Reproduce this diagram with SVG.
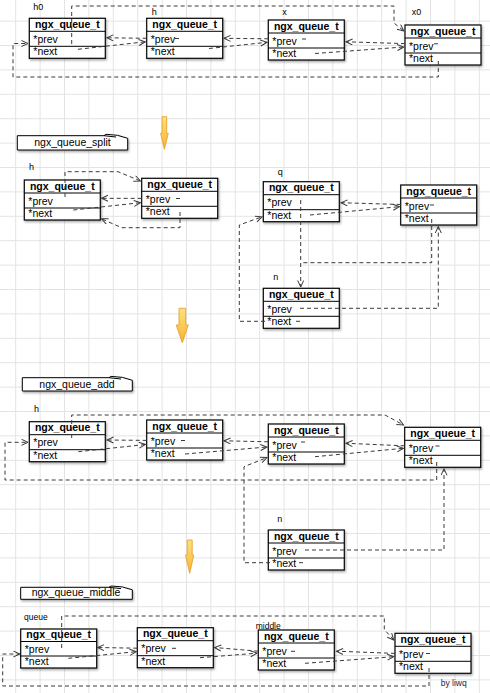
<svg xmlns="http://www.w3.org/2000/svg" width="490" height="693" viewBox="0 0 490 693">
<style>
.box{fill:#fff;stroke:#000;stroke-width:1.2;filter:url(#sh)}
.dv{fill:none;stroke:#000;stroke-width:1}
.tt{font-family:"Liberation Sans",Arial,sans-serif;font-size:10.5px;font-weight:bold;text-anchor:middle;fill:#000}
.fd{font-family:"Liberation Sans",Arial,sans-serif;font-size:10.5px;fill:#000}
.lb{font-family:"Liberation Sans",Arial,sans-serif;font-size:9px;fill:#000}
.lb2{font-family:"Liberation Sans",Arial,sans-serif;font-size:8.5px;fill:#000}
.c{fill:none;stroke:#3a3a3a;stroke-width:1;stroke-dasharray:4 3;marker-end:url(#arr)}
.cn{fill:none;stroke:#3a3a3a;stroke-width:1;stroke-dasharray:4 3}
.note{fill:#fff;stroke:#000;stroke-width:1;filter:url(#sh)}
.nt{font-family:"Liberation Sans",Arial,sans-serif;font-size:10.5px;text-anchor:middle;fill:#000}
.oa{fill:url(#og);stroke:#e39a26;stroke-width:0.8}
</style>
<defs>
<pattern id="grid" patternUnits="userSpaceOnUse" x="15.2" y="93.8" width="24.4" height="24.4">
<path d="M0.5,0 V24.4 M0,0.5 H24.4" stroke="#e3e3e3" stroke-width="1" fill="none"/>
</pattern>
<filter id="sh" x="-10%" y="-15%" width="125%" height="145%">
<feDropShadow dx="1" dy="1.5" stdDeviation="0.9" flood-color="#000" flood-opacity="0.35"/>
</filter>
<marker id="arr" markerWidth="10" markerHeight="10" refX="7" refY="3.5" orient="auto" markerUnits="userSpaceOnUse">
<path d="M0.5,0.5 L7,3.5 L0.5,6.5" fill="none" stroke="#3a3a3a" stroke-width="1"/>
</marker>
<linearGradient id="og" x1="0" y1="0" x2="0" y2="1">
<stop offset="0" stop-color="#fde27a"/>
<stop offset="1" stop-color="#f8b432"/>
</linearGradient>
</defs>
<rect width="490" height="693" fill="#fff"/>
<rect width="490" height="693" fill="url(#grid)"/>

<!-- notes and arrows -->
<g id="note-split">
<path class="note" d="M17.3,135.7 H104 L106,134.3 Q118,134.3 127.7,138.3 V150 H17.3 Z"/>
<path class="dv" d="M104,135.7 L116,137"/>
<text class="nt" x="72.5" y="146">ngx_queue_split</text>
</g>
<g id="note-add">
<path class="note" d="M22.3,377.7 H109 L111,376.4 Q123,376.4 132.3,380.3 V391 H22.3 Z"/>
<path class="dv" d="M109,377.7 L121,379"/>
<text class="nt" x="77" y="387.5">ngx_queue_add</text>
</g>
<g id="note-middle">
<path class="note" d="M20.7,587.3 H109 L111,586 Q123,586 132.3,589.8 V599.3 H20.7 Z"/>
<path class="dv" d="M109,587.3 L121,588.6"/>
<text class="nt" x="76" y="596.3">ngx_queue_middle</text>
</g>
<g id="arrows-step">
<path class="oa" d="M162,116.7 H166.7 V133.3 H168.3 L164.4,149.3 L160.6,133.3 H162 Z"/>
<path class="oa" d="M179,308.3 H185.7 V325 H188.3 L182.3,342.7 L176.2,325 H179 Z"/>
<path class="oa" d="M187.2,540 H192.2 V555 H193.8 L189.7,573.3 L185.5,555 H187.2 Z"/>
</g>

<!-- top row nodes -->
<g id="n-h0"><text class="lb" x="33.3" y="10">h0</text>
<g transform="translate(29.3,18.3)"><rect class="box" width="76" height="40"/><path class="dv" d="M0,13H76M0,28H76"/><text class="tt" x="38" y="9.5">ngx_queue_t</text><text class="fd" x="4" y="24.5">*prev</text><text class="fd" x="4" y="37.2">*next</text></g></g>
<g id="n-h"><text class="lb" x="151.7" y="15">h</text>
<g transform="translate(146.7,18.3)"><rect class="box" width="76" height="40"/><path class="dv" d="M0,13H76M0,28H76"/><text class="tt" x="38" y="9.5">ngx_queue_t</text><text class="fd" x="4" y="24.5">*prev</text><text class="fd" x="4" y="37.2">*next</text></g></g>
<g id="n-x"><text class="lb" x="282.3" y="15">x</text>
<g transform="translate(268.3,20)"><rect class="box" width="76" height="40"/><path class="dv" d="M0,13H76M0,28H76"/><text class="tt" x="38" y="9.5">ngx_queue_t</text><text class="fd" x="4" y="24.5">*prev</text><text class="fd" x="4" y="37.2">*next</text></g></g>
<g id="n-x0"><text class="lb" x="411.7" y="15">x0</text>
<g transform="translate(405,25)"><rect class="box" width="76" height="40"/><path class="dv" d="M0,13H76M0,28H76"/><text class="tt" x="38" y="9.5">ngx_queue_t</text><text class="fd" x="4" y="24.5">*prev</text><text class="fd" x="4" y="37.2">*next</text></g></g>

<!-- split nodes -->
<g id="s-h"><text class="lb" x="29" y="170">h</text>
<g transform="translate(24.3,180)"><rect class="box" width="76" height="40"/><path class="dv" d="M0,13H76M0,28H76"/><text class="tt" x="38" y="9.5">ngx_queue_t</text><text class="fd" x="4" y="24.5">*prev</text><text class="fd" x="4" y="37.2">*next</text></g></g>
<g id="s-2">
<g transform="translate(141.7,178.3)"><rect class="box" width="76" height="40"/><path class="dv" d="M0,13H76M0,28H76"/><text class="tt" x="38" y="9.5">ngx_queue_t</text><text class="fd" x="4" y="24.5">*prev</text><text class="fd" x="4" y="37.2">*next</text></g></g>
<g id="s-q"><text class="lb" x="277.7" y="175">q</text>
<g transform="translate(263.3,181.7)"><rect class="box" width="76" height="40"/><path class="dv" d="M0,13H76M0,28H76"/><text class="tt" x="38" y="9.5">ngx_queue_t</text><text class="fd" x="4" y="24.5">*prev</text><text class="fd" x="4" y="37.2">*next</text></g></g>
<g id="s-4">
<g transform="translate(400.7,185)"><rect class="box" width="76" height="40"/><path class="dv" d="M0,13H76M0,28H76"/><text class="tt" x="38" y="9.5">ngx_queue_t</text><text class="fd" x="4" y="24.5">*prev</text><text class="fd" x="4" y="37.2">*next</text></g></g>
<g id="s-n"><text class="lb" x="273.3" y="280">n</text>
<g transform="translate(263.3,288.3)"><rect class="box" width="76" height="40"/><path class="dv" d="M0,13H76M0,28H76"/><text class="tt" x="38" y="9.5">ngx_queue_t</text><text class="fd" x="4" y="24.5">*prev</text><text class="fd" x="4" y="37.2">*next</text></g></g>

<!-- add nodes -->
<g id="a-h"><text class="lb" x="34" y="412">h</text>
<g transform="translate(29.3,421.7)"><rect class="box" width="76" height="40"/><path class="dv" d="M0,13H76M0,28H76"/><text class="tt" x="38" y="9.5">ngx_queue_t</text><text class="fd" x="4" y="24.5">*prev</text><text class="fd" x="4" y="37.2">*next</text></g></g>
<g id="a-2">
<g transform="translate(146.7,420)"><rect class="box" width="76" height="40"/><path class="dv" d="M0,13H76M0,28H76"/><text class="tt" x="38" y="9.5">ngx_queue_t</text><text class="fd" x="4" y="24.5">*prev</text><text class="fd" x="4" y="37.2">*next</text></g></g>
<g id="a-3">
<g transform="translate(268.3,424)"><rect class="box" width="76" height="40"/><path class="dv" d="M0,13H76M0,28H76"/><text class="tt" x="38" y="9.5">ngx_queue_t</text><text class="fd" x="4" y="24.5">*prev</text><text class="fd" x="4" y="37.2">*next</text></g></g>
<g id="a-4">
<g transform="translate(404.7,427.3)"><rect class="box" width="76" height="40"/><path class="dv" d="M0,13H76M0,28H76"/><text class="tt" x="38" y="9.5">ngx_queue_t</text><text class="fd" x="4" y="24.5">*prev</text><text class="fd" x="4" y="37.2">*next</text></g></g>
<g id="a-n"><text class="lb" x="277.3" y="521.5">n</text>
<g transform="translate(268.3,530)"><rect class="box" width="76" height="40"/><path class="dv" d="M0,13H76M0,28H76"/><text class="tt" x="38" y="9.5">ngx_queue_t</text><text class="fd" x="4" y="24.5">*prev</text><text class="fd" x="4" y="37.2">*next</text></g></g>

<!-- middle nodes -->
<g id="m-q"><text class="lb2" x="24" y="619.5">queue</text>
<g transform="translate(20.7,629)"><rect class="box" width="76" height="39"/><path class="dv" d="M0,12.5H76M0,27H76"/><text class="tt" x="38" y="9.3">ngx_queue_t</text><text class="fd" x="4" y="23.7">*prev</text><text class="fd" x="4" y="36.3">*next</text></g></g>
<g id="m-2">
<g transform="translate(137.3,627.7)"><rect class="box" width="76" height="40"/><path class="dv" d="M0,13H76M0,28H76"/><text class="tt" x="38" y="9.5">ngx_queue_t</text><text class="fd" x="4" y="24.5">*prev</text><text class="fd" x="4" y="37.2">*next</text></g></g>
<g id="m-3"><text class="lb2" x="255.7" y="629">middle</text>
<g transform="translate(258.3,630)"><rect class="box" width="76" height="40"/><path class="dv" d="M0,13H76M0,28H76"/><text class="tt" x="38" y="9.5">ngx_queue_t</text><text class="fd" x="4" y="24.5">*prev</text><text class="fd" x="4" y="37.2">*next</text></g></g>
<g id="m-4">
<g transform="translate(395,633.3)"><rect class="box" width="76" height="40"/><path class="dv" d="M0,13H76M0,28H76"/><text class="tt" x="38" y="9.5">ngx_queue_t</text><text class="fd" x="4" y="24.5">*prev</text><text class="fd" x="4" y="37.2">*next</text></g></g>

<text class="lb2" x="440.7" y="686" fill="#22224a" style="fill:#22224a">by liwq</text>

<g id="connectors">
<!-- top -->
<path class="c" d="M71.7,44 V6 H394 V23 L403.8,31"/>
<path class="c" d="M78,49.3 L145.3,41.8"/>
<path class="c" d="M179,38.5 H174 M146.7,38.3 L106.8,37.8"/>
<path class="c" d="M209,48.5 L267,42.3"/>
<path class="c" d="M306,39 H300.5 M268.3,38.8 L224,38.3"/>
<path class="c" d="M315,53.5 L403.8,47"/>
<path class="c" d="M438,43.8 H433 M405,43.6 L346,41.8"/>
<path class="c" d="M438.3,61 V77 H13 V43.5 H28"/>
<!-- split -->
<path class="c" d="M65,197 V171.7 H118 L140.5,181"/>
<path class="c" d="M73.3,210 L140.5,202.7"/>
<path class="c" d="M180,198.5 H175.5 M141.7,198.4 L101.5,198.3"/>
<path class="c" d="M180,212 V227.7 H121.7 L101.5,218.8"/>
<path class="c" d="M300.7,200 V287"/>
<path class="c" d="M310,215 L399.5,206.7"/>
<path class="c" d="M434,205 H429.5 M400.7,204.5 L341,202.7"/>
<path class="cn" d="M431.7,219 V262.7 H300.7"/>
<path class="c" d="M300,308.3 H438.3 V226.5"/>
<path class="c" d="M300,321.3 H296 M265,321.3 H239.3 V225 L262,216.8"/>
<!-- add -->
<path class="c" d="M71.7,438 V415 H385 L403.5,425"/>
<path class="c" d="M78.3,451.7 L145.5,444.5"/>
<path class="c" d="M185,440.5 H180.5 M146.7,440.4 L107,440"/>
<path class="c" d="M185,454 L267,447"/>
<path class="c" d="M305,442 H300.5 M268.3,441.8 L224,440.8"/>
<path class="c" d="M315,456.7 L403.5,448.3"/>
<path class="c" d="M439.5,446 H434.5 M404.7,445.8 L346,443.3"/>
<path class="c" d="M436.7,462 V480 H5 V442.3 H28"/>
<path class="c" d="M305,550 H444 V468.8"/>
<path class="c" d="M303,562.7 H298.5 M270,562.7 H244 V466.7 L267,457.5"/>
<!-- middle -->
<path class="c" d="M61.7,648 V616 H384.3 V629.5 L393.8,640"/>
<path class="c" d="M68.3,658.3 L136.3,651.7"/>
<path class="c" d="M176,648.3 H171.5 M137.3,648.2 L97.5,647.5"/>
<path class="c" d="M200,657.7 L257,653.2"/>
<path class="c" d="M295,651.3 H290.5 M258.3,651.2 L214.5,647.5"/>
<path class="c" d="M305,663.3 L393.8,656.7"/>
<path class="c" d="M430,653.5 H425.5 M395,653.4 L336.5,651.2"/>
<path class="c" d="M429,668 V686 H2.7 V654 H19.8"/>
</g>
</svg>
